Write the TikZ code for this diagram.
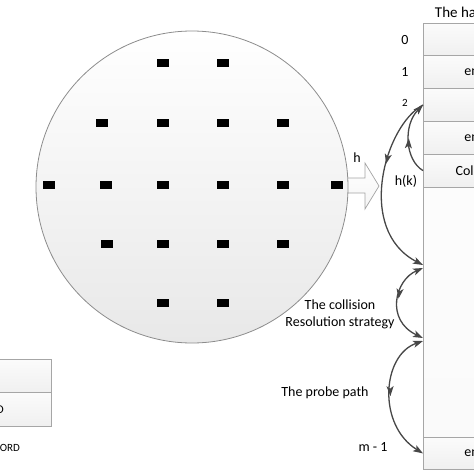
\documentclass[tikz,border=0pt]{standalone}
\usepackage{fontspec}
\setmainfont{Carlito}
\usetikzlibrary{arrows.meta,positioning,decorations.markings}
\definecolor{edgegray}{HTML}{A6A6A6}
\definecolor{ringgray}{HTML}{8C8C8C}
\definecolor{pathgray}{HTML}{474747}
\tikzset{
  >={Stealth[length=10pt,width=7pt,inset=2.5pt]},
  cell/.style={draw=edgegray,line width=0.8pt,top color=gray!3,bottom color=gray!12,minimum width=113pt,minimum height=32.8pt,inner sep=0pt,outer sep=0pt,font=\fontsize{14}{17}\selectfont},
  keydot/.style={fill=black,minimum width=12pt,minimum height=8pt,inner sep=0pt},
  lbl/.style={font=\fontsize{14}{17}\selectfont,inner sep=0pt},
  probe/.style={color=pathgray,line width=1.3pt,postaction={decorate},
    decoration={markings,mark=at position #1 with {\arrow{>}}}}
}
\begin{document}
\begin{tikzpicture}[x=1pt,y=-1pt]
  \useasboundingbox (0,0) rectangle (474,474);
  \clip (0,0) rectangle (474,474);
  % the set of keys
  \draw[draw=ringgray!80,line width=0.7pt,top color=white,bottom color=gray!8] (346,178)--(365,178)--(365,163)--(379,186)--(365,209)--(365,193)--(346,193)--cycle;
  \node[circle,draw=ringgray,line width=0.8pt,minimum size=312pt,inner sep=0pt,top color=white,bottom color=gray!18] (keys) at (192,187) {};
  \foreach \x/\y [count=\i] in {163/63,223/63,102/123,163/123,223/123,283/123,49/185,106/185,163/185,223/185,283/185,337/185,107/244,163/244,223/244,283/244,163/303,223/303}
    \node[keydot] (key\i) at (\x,\y) {};
  \node[lbl] (hname) at (357,158) {h};
  % the hash table
  \node[cell] (slot0) at (479.5,39.4) {};
  \node[cell,below=0pt of slot0] (slot1) {entry};
  \node[cell,below=0pt of slot1] (slot2) {};
  \node[cell,below=0pt of slot2] (slot3) {entry};
  \node[cell,below=0pt of slot3] (slot4) {Collision};
  \node[cell,below=0pt of slot4,minimum height=250pt,top color=gray!2,bottom color=gray!4] (rest) {};
  \node[cell,below=0pt of rest] (slotm) {entry};
  \node[font=\fontsize{15}{18}\selectfont,inner sep=0pt] (title) at (479.5,12) {The hash table};
  \node[lbl] (idx0) at (405,40) {0};
  \node[lbl] (idx1) at (405,72) {1};
  \node[lbl,font=\fontsize{11}{13}\selectfont] (idx2) at (405,103) {2};
  \node[lbl] (idxm) at (373,447) {m - 1};
  \node[lbl] (hk) at (406,181) {h(k)};
  \node[lbl,align=center] (resolve) at (340,314.5) {The collision\\Resolution strategy};
  \node[lbl] (probepath) at (325,393) {The probe path};
  % probe sequence
  \coordinate (p1) at (423,265);
  \coordinate (p2) at (423,268);
  \coordinate (p3) at (423,338);
  \coordinate (p4) at (423,341);
  \draw[probe=0.38,->] (slot2.west) .. controls (385,125) and (355,230) .. (p1);
  \draw[probe=0.5,->] (slot4.west) .. controls (405,160) and (403,125) .. (slot2.west);
  \draw[probe=0.45,<->] (p2) .. controls (395,280) and (385,320) .. (p3);
  \draw[probe=0.5,<->] (p4) .. controls (382,355) and (377,425) .. (slotm.west);
  % record boxes
  \node[cell,minimum width=110pt,minimum height=33.5pt] (rec1) at (-4,376) {};
  \node[cell,minimum width=110pt,minimum height=33.5pt,below=0pt of rec1] (rec2) {};
  \node[lbl,font=\fontsize{12}{14}\selectfont,anchor=east] (rec2txt) at (4,410) {D};
  \node[lbl,font=\fontsize{11}{13}\selectfont,anchor=east] (rectxt) at (20,448) {ORD};
\end{tikzpicture}
\end{document}
